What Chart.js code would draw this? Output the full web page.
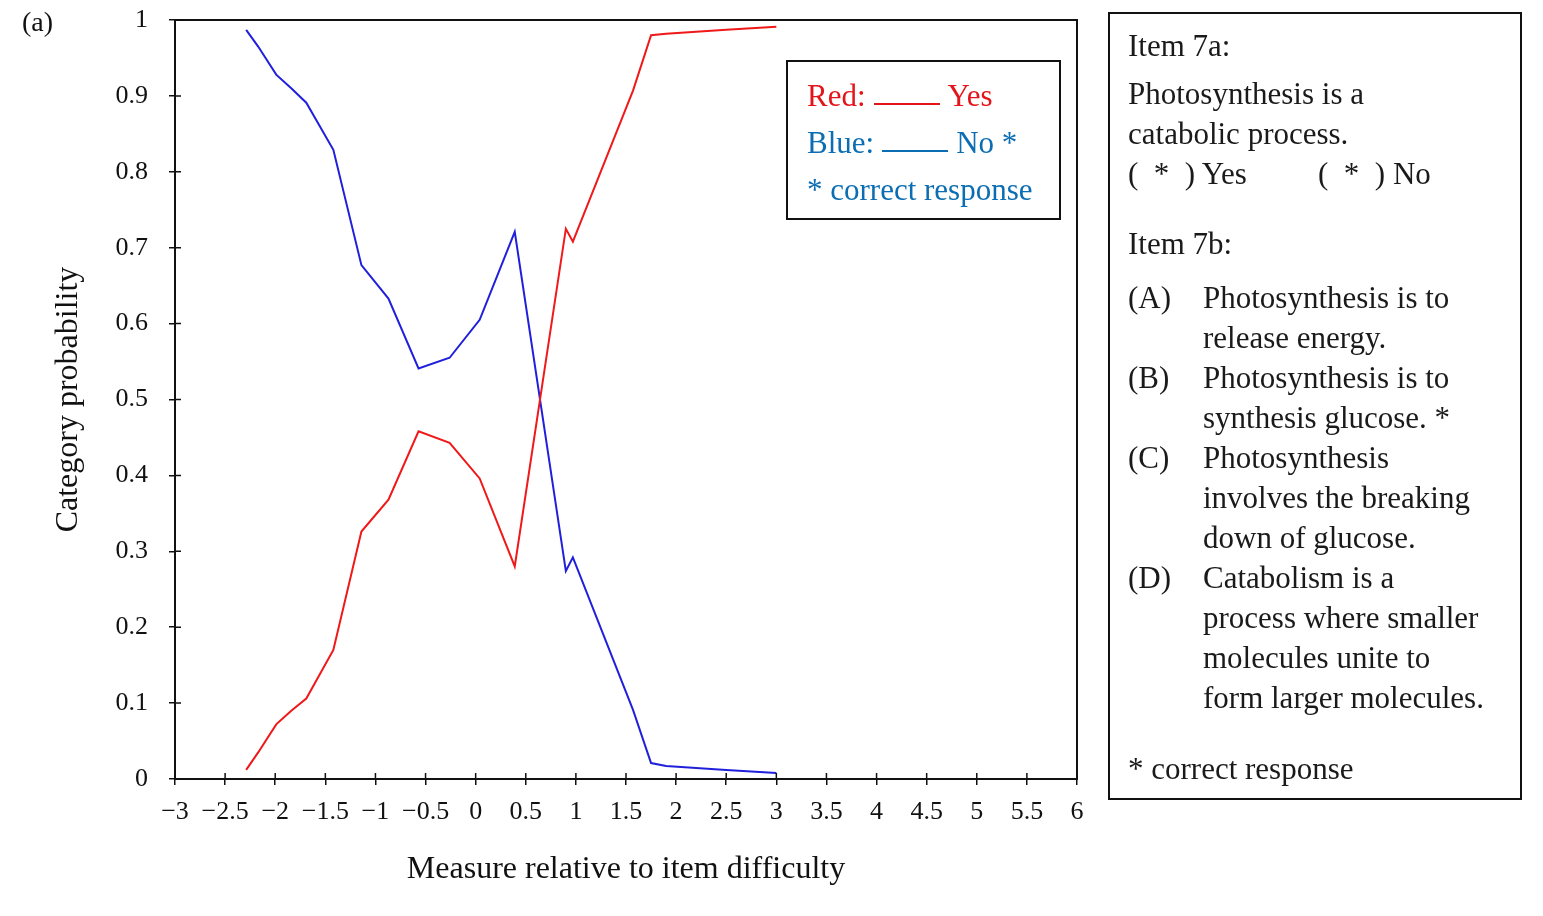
<!DOCTYPE html>
<html>
<head>
<meta charset="utf-8">
<script src="https://cdn.jsdelivr.net/npm/chart.js@4"></script>
<style>
  body { margin: 0; background: #fff; font-family: "Liberation Serif", "DejaVu Serif", serif; }
  #wrap { position: relative; width: 1543px; height: 916px; }
  #chart { position: absolute; left: 0; top: 0; }
  .tag { position: absolute; left: 22px; top: 6px; font-size: 28px; color: #111; }
  .legend {
    position: absolute; left: 786px; top: 60px; width: 275px; height: 160px;
    border: 2px solid #111; box-sizing: border-box; padding: 10px 0 0 19px;
    font-size: 31px; line-height: 47px; white-space: nowrap;
  }
  .legend .dash { display: inline-block; width: 66px; height: 31px; border-bottom: 2px solid currentColor; margin: 0 8px; vertical-align: top; }
  .red { color: #e3151a; }
  .blue { color: #0b6db3; }
  .item {
    position: absolute; left: 1108px; top: 12px; width: 414px; height: 788px;
    border: 2px solid #111; box-sizing: border-box; padding: 12px 0 0 18px;
    font-size: 31px; line-height: 40px; color: #1a1a1a; white-space: nowrap;
  }
  .item p { margin: 0; }
  .item .opt { display: flex; }
  .item .opt span:first-child { width: 75px; }
</style>
</head>
<body>
<div id="wrap">
  <canvas id="chart" width="1543" height="916"></canvas>
  <div class="tag">(a)</div>
  <div class="legend">
    <div class="red">Red:<span class="dash"></span>Yes</div>
    <div class="blue">Blue:<span class="dash"></span>No *</div>
    <div class="blue">* correct response</div>
  </div>
  <div class="item">
    <p>Item 7a:</p>
    <p style="margin-top:8px">Photosynthesis is a</p>
    <p>catabolic process.</p>
    <p><span style="display:inline-block;width:190px;white-space:pre">(  *  ) Yes</span><span style="white-space:pre">(  *  ) No</span></p>
    <p style="margin-top:30px">Item 7b:</p>
    <div class="opt" style="margin-top:14px"><span>(A)</span><span>Photosynthesis is to<br>release energy.</span></div>
    <div class="opt"><span>(B)</span><span>Photosynthesis is to<br>synthesis glucose. *</span></div>
    <div class="opt"><span>(C)</span><span>Photosynthesis<br>involves the breaking<br>down of glucose.</span></div>
    <div class="opt"><span>(D)</span><span>Catabolism is a<br>process where smaller<br>molecules unite to<br>form larger molecules.</span></div>
    <p style="margin-top:31px">* correct response</p>
  </div>
</div>
<script>
// Measure relative to item difficulty (logits)
const measures = [-2.29, -2.17, -1.99, -1.84, -1.69, -1.42, -1.14, -0.87, -0.57, -0.26, 0.04, 0.39, 0.90, 0.97, 1.57, 1.75, 1.90, 2.5, 3.0];
// Category probability, "Yes" (red)
const yesProb = [0.012, 0.035, 0.072, 0.09, 0.106, 0.17, 0.326, 0.368, 0.458, 0.443, 0.396, 0.28, 0.725, 0.708, 0.907, 0.980, 0.982, 0.987, 0.991];
// Category probability, "No" (blue, correct)
const noProb = [0.987, 0.965, 0.928, 0.91, 0.891, 0.829, 0.677, 0.633, 0.541, 0.555, 0.605, 0.721, 0.274, 0.292, 0.091, 0.021, 0.017, 0.012, 0.008];

const toPoints = ys => measures.map((x, i) => ({ x: x, y: ys[i] }));

// frame on top/right and inward halves of the tick marks
const framePlugin = {
  id: 'frame',
  afterDraw(chart) {
    const { ctx, chartArea: a, scales } = chart;
    ctx.save();
    ctx.strokeStyle = '#111';
    ctx.lineWidth = 2;
    ctx.strokeRect(a.left, a.top, a.right - a.left, a.bottom - a.top);
    ctx.lineWidth = 1.5;
    ctx.beginPath();
    scales.x.ticks.forEach(t => {
      const px = scales.x.getPixelForValue(t.value);
      ctx.moveTo(px, a.bottom);
      ctx.lineTo(px, a.bottom - 6);
    });
    scales.y.ticks.forEach(t => {
      const py = scales.y.getPixelForValue(t.value);
      ctx.moveTo(a.left, py);
      ctx.lineTo(a.left + 6, py);
    });
    ctx.stroke();
    ctx.restore();
  }
};

const serif = '"Liberation Serif", "DejaVu Serif", serif';

new Chart(document.getElementById('chart').getContext('2d'), {
  type: 'line',
  data: {
    datasets: [
      { label: 'Yes', data: toPoints(yesProb), borderColor: '#f01818', borderWidth: 2, pointRadius: 0, tension: 0, fill: false },
      { label: 'No', data: toPoints(noProb), borderColor: '#2020dc', borderWidth: 2, pointRadius: 0, tension: 0, fill: false }
    ]
  },
  options: {
    responsive: false,
    animation: false,
    layout: { padding: { left: 0, top: 20, right: 466, bottom: 0 } },
    plugins: { legend: { display: false }, tooltip: { enabled: false } },
    scales: {
      x: {
        type: 'linear', min: -3, max: 6,
        afterFit: s => { s.height = 137; s.paddingLeft = 0; s.paddingRight = 0; },
        border: { color: '#111', width: 2 },
        grid: { drawOnChartArea: false, drawTicks: true, tickLength: 6, color: '#111', lineWidth: 1.5 },
        ticks: {
          stepSize: 0.5, autoSkip: false, maxRotation: 0, padding: 12,
          color: '#111', font: { family: serif, size: 26 },
          callback: v => v < 0 ? '\u2212' + Math.abs(v) : String(v)
        },
        title: { display: true, text: 'Measure relative to item difficulty', color: '#111', font: { family: serif, size: 32 }, padding: { top: 0, bottom: 27 } }
      },
      y: {
        min: 0, max: 1,
        afterFit: s => { s.width = 175; s.paddingTop = 0; s.paddingBottom = 0; },
        border: { color: '#111', width: 2 },
        grid: { drawOnChartArea: false, drawTicks: true, tickLength: 6, color: '#111', lineWidth: 1.5 },
        ticks: {
          stepSize: 0.1, padding: 21,
          color: '#111', font: { family: serif, size: 26 },
          callback: v => String(+v.toFixed(1))
        },
        title: { display: true, text: 'Category probability', color: '#111', font: { family: serif, size: 32 }, padding: { top: 49, bottom: 0 } }
      }
    }
  },
  plugins: [framePlugin]
});
</script>
</body>
</html>
